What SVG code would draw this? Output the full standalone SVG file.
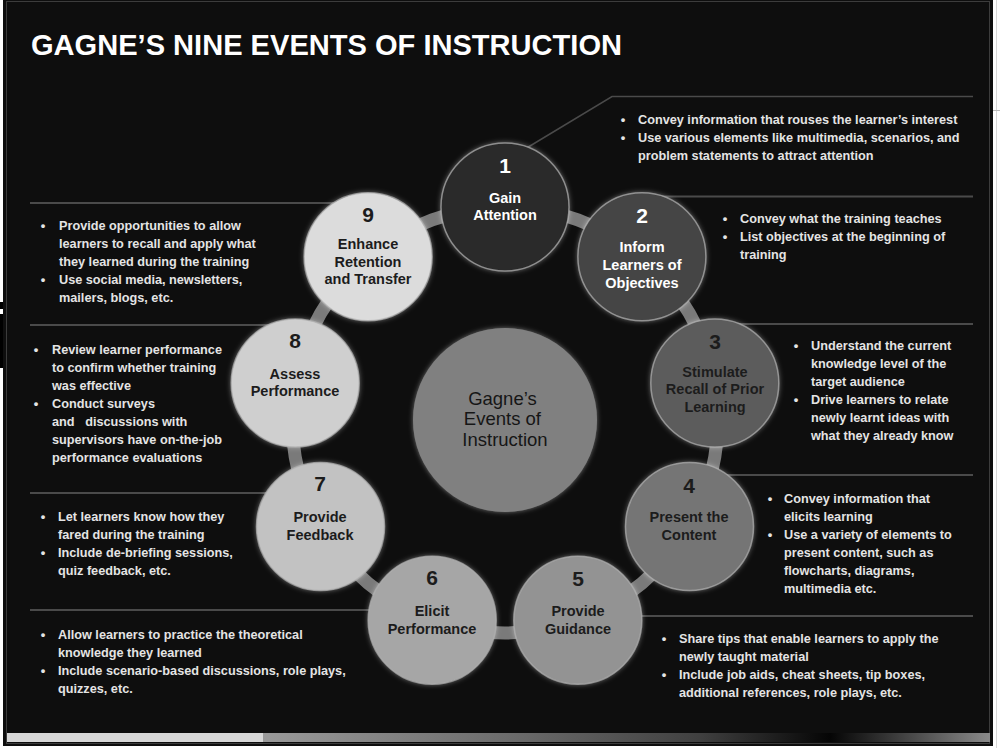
<svg xmlns="http://www.w3.org/2000/svg" width="1000" height="748" viewBox="0 0 1000 748">
  <defs>
    <style>
      .t { font-family: "Liberation Sans", Arial, sans-serif; font-weight: bold; font-size: 12.7px; fill: #e4e4e4; }
      .bul { font-family: "Liberation Sans", Arial, sans-serif; font-weight: bold; font-size: 13px; fill: #e4e4e4; text-anchor: middle; }
      .num { font-family: "Liberation Sans", Arial, sans-serif; font-weight: bold; font-size: 21px; text-anchor: middle; }
      .lbl { font-family: "Liberation Sans", Arial, sans-serif; font-weight: bold; font-size: 14.5px; text-anchor: middle; }
      .lt { fill: #ffffff; }
      .dk { fill: #1c1c1c; }
      .div { stroke: #4a4a4a; stroke-width: 2; fill: none; }
      .conn { stroke: #7a7a7a; stroke-width: 13; fill: none; }
      .node { stroke: #b0b0b0; stroke-width: 1.5; stroke-opacity: 0.7; filter: url(#glow); }
    </style>
    <filter id="glow" x="-20%" y="-20%" width="140%" height="140%">
      <feGaussianBlur in="SourceAlpha" stdDeviation="2.5" result="b"/>
      <feFlood flood-color="#ffffff" flood-opacity="0.4"/>
      <feComposite in2="b" operator="in" result="g"/>
      <feMerge><feMergeNode in="g"/><feMergeNode in="SourceGraphic"/></feMerge>
    </filter>
    <linearGradient id="bar" x1="263" y1="0" x2="990" y2="0" gradientUnits="userSpaceOnUse">
      <stop offset="0" stop-color="#9a9a9a"/>
      <stop offset="0.35" stop-color="#6a6a6a"/>
      <stop offset="0.6" stop-color="#404040"/>
      <stop offset="0.78" stop-color="#050505"/>
      <stop offset="1" stop-color="#8a8a8a"/>
    </linearGradient>
  </defs>

  <!-- page -->
  <rect x="0" y="0" width="1000" height="748" fill="#ffffff"/>
  <line x1="996.5" y1="0" x2="996.5" y2="748" stroke="#d8d8d8" stroke-width="1"/>
  <line x1="993" y1="110.5" x2="1000" y2="110.5" stroke="#bbbbbb" stroke-width="1"/>
  <rect x="0" y="302" width="3" height="66" fill="#000000"/>
  <rect x="0" y="309" width="3" height="5" fill="#ffffff"/>
  <rect x="3" y="0" width="990" height="746" fill="#0e0e0e"/>
  <rect x="6.5" y="1.5" width="983" height="742" fill="none" stroke="#3c3c3c" stroke-width="1"/>

  <!-- bottom bar -->
  <rect x="7" y="733" width="256" height="9" fill="#d8d8d8"/>
  <rect x="263" y="733" width="727" height="9" fill="url(#bar)"/>

  <!-- title -->
  <text x="31" y="55" font-family="'Liberation Sans', Arial, sans-serif" font-weight="bold" font-size="30" fill="#ffffff" textLength="591" lengthAdjust="spacingAndGlyphs">GAGNE’S NINE EVENTS OF INSTRUCTION</text>

  <!-- divider lines -->
  <g id="dividers">
    <polyline class="div" points="520,152 612,96.5 973,96.5" style="stroke-width:1.5"/>
    <line class="div" x1="650" y1="196.5" x2="973" y2="196.5"/>
    <line class="div" x1="720" y1="324" x2="973" y2="324"/>
    <line class="div" x1="710" y1="475" x2="973" y2="475"/>
    <line class="div" x1="600" y1="616" x2="973" y2="616"/>
    <line class="div" x1="30" y1="203" x2="350" y2="203"/>
    <line class="div" x1="30" y1="325" x2="280" y2="325"/>
    <line class="div" x1="30" y1="493" x2="290" y2="493"/>
    <line class="div" x1="30" y1="610" x2="390" y2="610"/>
  </g>

  <!-- connectors (ring segments) -->
  <g id="connectors">
    <path class="conn" d="M505 207 A213 213 0 0 1 641.9 256.8"/>
    <path class="conn" d="M641.9 256.8 A213 213 0 0 1 714.8 383"/>
    <path class="conn" d="M714.8 383 A213 213 0 0 1 689.5 526.5"/>
    <path class="conn" d="M689.5 526.5 A213 213 0 0 1 577.8 620.2"/>
    <path class="conn" d="M577.8 620.2 A213 213 0 0 1 432.2 620.2"/>
    <path class="conn" d="M432.2 620.2 A213 213 0 0 1 320.5 526.5"/>
    <path class="conn" d="M320.5 526.5 A213 213 0 0 1 295.2 383"/>
    <path class="conn" d="M295.2 383 A213 213 0 0 1 368.1 256.8"/>
    <path class="conn" d="M368.1 256.8 A213 213 0 0 1 505 207"/>
  </g>

  <!-- center node -->
  <g id="center">
    <circle cx="505" cy="420" r="92" fill="#808080" filter="url(#glow)"/>
    <text font-family="'Liberation Sans', Arial, sans-serif" font-size="18.5" fill="#161616" text-anchor="middle">
      <tspan x="505" y="405">Gagne’s</tspan>
      <tspan x="505" y="425">Events of</tspan>
      <tspan x="505" y="446">Instruction</tspan>
    </text>
  </g>

  <!-- nodes -->
  <g id="node1">
    <circle class="node" cx="505" cy="207" r="64" fill="#2a2a2a"/>
    <text class="num lt" x="505" y="172.5">1</text>
    <text class="lbl lt"><tspan x="505" y="203">Gain</tspan><tspan x="505" y="220">Attention</tspan></text>
  </g>
  <g id="node2">
    <circle class="node" cx="641.9" cy="256.8" r="64" fill="#444444"/>
    <text class="num lt" x="642" y="222.5">2</text>
    <text class="lbl lt"><tspan x="642" y="252">Inform</tspan><tspan x="642" y="270">Learners of</tspan><tspan x="642" y="288">Objectives</tspan></text>
  </g>
  <g id="node3">
    <circle class="node" cx="714.8" cy="383" r="64" fill="#5c5c5c"/>
    <text class="num dk" x="715" y="348.5">3</text>
    <text class="lbl dk"><tspan x="715" y="377">Stimulate</tspan><tspan x="715" y="394">Recall of Prior</tspan><tspan x="715" y="412">Learning</tspan></text>
  </g>
  <g id="node4">
    <circle class="node" cx="689.5" cy="526.5" r="64" fill="#747474"/>
    <text class="num dk" x="689" y="492.5">4</text>
    <text class="lbl dk"><tspan x="689" y="522">Present the</tspan><tspan x="689" y="540">Content</tspan></text>
  </g>
  <g id="node5">
    <circle class="node" cx="577.8" cy="620.2" r="64" fill="#939393"/>
    <text class="num dk" x="578" y="585.5">5</text>
    <text class="lbl dk"><tspan x="578" y="616">Provide</tspan><tspan x="578" y="634">Guidance</tspan></text>
  </g>
  <g id="node6">
    <circle class="node" cx="432.2" cy="620.2" r="64" fill="#a6a6a6"/>
    <text class="num dk" x="432" y="584.5">6</text>
    <text class="lbl dk"><tspan x="432" y="616">Elicit</tspan><tspan x="432" y="634">Performance</tspan></text>
  </g>
  <g id="node7">
    <circle class="node" cx="320.5" cy="526.5" r="64" fill="#c2c2c2"/>
    <text class="num dk" x="320" y="490.5">7</text>
    <text class="lbl dk"><tspan x="320" y="522">Provide</tspan><tspan x="320" y="540">Feedback</tspan></text>
  </g>
  <g id="node8">
    <circle class="node" cx="295.2" cy="383" r="64" fill="#cfcfcf"/>
    <text class="num dk" x="295" y="347.5">8</text>
    <text class="lbl dk"><tspan x="295" y="379">Assess</tspan><tspan x="295" y="396">Performance</tspan></text>
  </g>
  <g id="node9">
    <circle class="node" cx="368.1" cy="256.8" r="64" fill="#dcdcdc"/>
    <text class="num dk" x="368" y="221.5">9</text>
    <text class="lbl dk"><tspan x="368" y="249">Enhance</tspan><tspan x="368" y="267">Retention</tspan><tspan x="368" y="284">and Transfer</tspan></text>
  </g>

  <!-- description blocks -->
  <g id="desc1">
    <text class="bul"><tspan x="623" y="124">•</tspan><tspan x="623" y="142">•</tspan></text>
    <text class="t">
      <tspan x="638" y="124">Convey information that rouses the learner’s interest</tspan>
      <tspan x="638" y="142">Use various elements like multimedia, scenarios, and</tspan>
      <tspan x="638" y="160">problem statements to attract attention</tspan>
    </text>
  </g>
  <g id="desc2">
    <text class="bul"><tspan x="725" y="222.5">•</tspan><tspan x="725" y="240.5">•</tspan></text>
    <text class="t">
      <tspan x="740" y="222.5">Convey what the training teaches</tspan>
      <tspan x="740" y="240.5">List objectives at the beginning of</tspan>
      <tspan x="740" y="258.5">training</tspan>
    </text>
  </g>
  <g id="desc3">
    <text class="bul"><tspan x="796" y="349.5">•</tspan><tspan x="796" y="403.5">•</tspan></text>
    <text class="t">
      <tspan x="811" y="349.5">Understand the current</tspan>
      <tspan x="811" y="367.5">knowledge level of the</tspan>
      <tspan x="811" y="385.5">target audience</tspan>
      <tspan x="811" y="403.5">Drive learners to relate</tspan>
      <tspan x="811" y="421.5">newly learnt ideas with</tspan>
      <tspan x="811" y="439.5">what they already know</tspan>
    </text>
  </g>
  <g id="desc4">
    <text class="bul"><tspan x="770" y="502.5">•</tspan><tspan x="770" y="538.5">•</tspan></text>
    <text class="t">
      <tspan x="784" y="502.5">Convey information that</tspan>
      <tspan x="784" y="520.5">elicits learning</tspan>
      <tspan x="784" y="538.5">Use a variety of elements to</tspan>
      <tspan x="784" y="556.5">present content, such as</tspan>
      <tspan x="784" y="574.5">flowcharts, diagrams,</tspan>
      <tspan x="784" y="592.5">multimedia etc.</tspan>
    </text>
  </g>
  <g id="desc5">
    <text class="bul"><tspan x="664" y="642.5">•</tspan><tspan x="664" y="678.5">•</tspan></text>
    <text class="t">
      <tspan x="679" y="642.5">Share tips that enable learners to apply the</tspan>
      <tspan x="679" y="660.5">newly taught material</tspan>
      <tspan x="679" y="678.5">Include job aids, cheat sheets, tip boxes,</tspan>
      <tspan x="679" y="696.5">additional references, role plays, etc.</tspan>
    </text>
  </g>
  <g id="desc9">
    <text class="bul"><tspan x="43" y="229.5">•</tspan><tspan x="43" y="283.5">•</tspan></text>
    <text class="t">
      <tspan x="59" y="229.5">Provide opportunities to allow</tspan>
      <tspan x="59" y="247.5">learners to recall and apply what</tspan>
      <tspan x="59" y="265.5">they learned during the training</tspan>
      <tspan x="59" y="283.5">Use social media, newsletters,</tspan>
      <tspan x="59" y="301.5">mailers, blogs, etc.</tspan>
    </text>
  </g>
  <g id="desc8">
    <text class="bul"><tspan x="36" y="353.5">•</tspan><tspan x="36" y="407.5">•</tspan></text>
    <text class="t">
      <tspan x="52" y="353.5">Review learner performance</tspan>
      <tspan x="52" y="371.5">to confirm whether training</tspan>
      <tspan x="52" y="389.5">was effective</tspan>
      <tspan x="52" y="407.5">Conduct surveys</tspan>
      <tspan x="52" y="425.5">and&#160;&#160;&#160;discussions with</tspan>
      <tspan x="52" y="443.5">supervisors have on-the-job</tspan>
      <tspan x="52" y="461.5">performance evaluations</tspan>
    </text>
  </g>
  <g id="desc7">
    <text class="bul"><tspan x="43" y="520.5">•</tspan><tspan x="43" y="556.5">•</tspan></text>
    <text class="t">
      <tspan x="58" y="520.5">Let learners know how they</tspan>
      <tspan x="58" y="538.5">fared during the training</tspan>
      <tspan x="58" y="556.5">Include de-briefing sessions,</tspan>
      <tspan x="58" y="574.5">quiz feedback, etc.</tspan>
    </text>
  </g>
  <g id="desc6">
    <text class="bul"><tspan x="43" y="638.5">•</tspan><tspan x="43" y="674.5">•</tspan></text>
    <text class="t">
      <tspan x="58" y="638.5">Allow learners to practice the theoretical</tspan>
      <tspan x="58" y="656.5">knowledge they learned</tspan>
      <tspan x="58" y="674.5">Include scenario-based discussions, role plays,</tspan>
      <tspan x="58" y="692.5">quizzes, etc.</tspan>
    </text>
  </g>
</svg>
